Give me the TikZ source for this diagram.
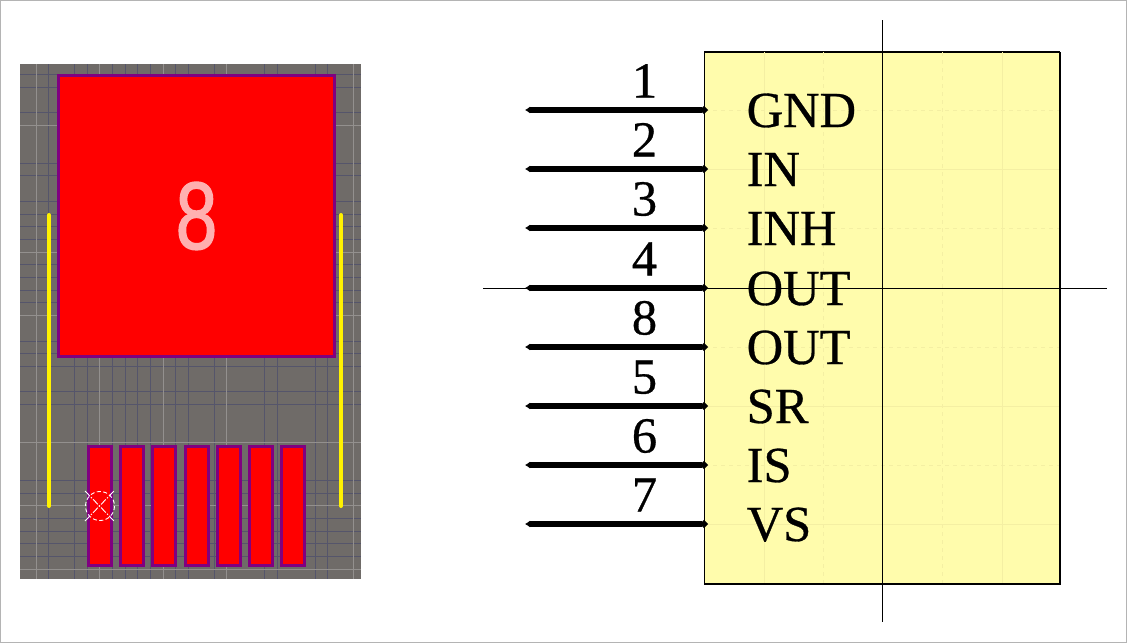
\documentclass[tikz,border=0pt]{standalone}
\usepackage{fontspec}
\setmainfont[FakeBold=0.6]{Liberation Serif}
\newfontfamily\padfont[FakeBold=1.4]{Liberation Sans}
\usetikzlibrary{arrows.meta}
\definecolor{boardgray}{HTML}{6F6B68}
\definecolor{griddark}{HTML}{55556B}
\definecolor{gridlight}{HTML}{93908E}
\definecolor{padpurple}{HTML}{800080}
\definecolor{padtext}{HTML}{FFB0B0}
\definecolor{bodyfill}{HTML}{FFFCAC}
\definecolor{bodygrid}{HTML}{F4EFA3}
\definecolor{framegray}{HTML}{B4B4B4}
\tikzset{
  x=1pt,y=-1pt,
  griddk/.style={griddark,line width=1.1pt},
  gridlt/.style={gridlight,line width=1.1pt},
  padshape/.style={fill=red,draw=padpurple,line width=3pt},
  silk/.style={yellow,line width=4pt,line cap=round},
  marker/.style={white,line width=0.9pt},
  pinline/.style={line width=5.5pt,{Circle[length=7pt,width=7pt]}-{Latex[length=5pt,width=7pt]}},
  pinnum/.style={font=\fontsize{50.5}{60}\selectfont,anchor=base,inner sep=0pt},
  pinname/.style={font=\fontsize{50.5}{60}\selectfont,anchor=base west,inner sep=0pt},
  bodybox/.style={draw=black,fill=bodyfill,line width=1pt,anchor=north west,inner sep=0pt,minimum width=355.5pt,minimum height=532pt},
  cross/.style={black,line width=1.3pt},
  bodysolid/.style={bodygrid,line width=1pt},
  bodydash/.style={bodygrid,line width=1pt,dash pattern=on 4pt off 4pt},
}
\begin{document}
\begin{tikzpicture}
\path[use as bounding box] (0,0) rectangle (1127,643);
\fill[white] (0,0) rectangle (1127,643);
\draw[framegray,line width=1pt] (0.5,0.5) rectangle (1126.5,642.5);
% board
\fill[boardgray] (20,64) rectangle (361,579);
\foreach \gy in {74,87,112,163,175,201,214,226,239,264,277,290,302,341,353,366,391,404,480,493,518,531,543,556}
  \draw[griddk] (20,\gy.5) -- (361,\gy.5);
\foreach \gx in {48,74,87,112,125,137,150,175,188,214,264,277,315,327}
  \draw[griddk] (\gx.5,64) -- (\gx.5,579);
\foreach \gy in {125,252,315,442,505,569}
  \draw[gridlt] (20,\gy.5) -- (361,\gy.5);
\foreach \gx in {36,99,163,226,353}
  \draw[gridlt] (\gx.5,64) -- (\gx.5,579);
% pads
\draw[padshape] (58.5,75.5) rectangle (334.5,356.5);
\foreach \pl/\pr in {87/113,119/145,151/177,184/209.5,216/242,248/274,280/306}
  \draw[padshape] (\pl+1.5,446.5) rectangle (\pr-1.5,565.5);
\node[font=\fontsize{96}{110}\padfont,text=padtext,inner sep=0pt,anchor=base] (padlabel) at (196.5,249) {\scalebox{0.78}[1]{8}};
% silk
\draw[silk] (49,215) -- (49,506);
\draw[silk] (341,215) -- (341,506);
% pin-1 marker
\draw[marker,dash pattern=on 4pt off 2.5pt] (100,506) circle (14.5);
\draw[marker,dash pattern=on 7pt off 1.5pt on 1.5pt off 1.5pt] (85,491) -- (114,521);
\draw[marker,dash pattern=on 7pt off 1.5pt on 1.5pt off 1.5pt] (85,521) -- (114,491);
% schematic body
\node[bodybox] (body) at (704,51.5) {};
\foreach \gx in {764,1002} \draw[bodysolid] (\gx.5,52) -- (\gx.5,583);
\foreach \gx in {823,942} \draw[bodydash] (\gx.5,52) -- (\gx.5,583);
\foreach \gy in {169,288,406,524} \draw[bodysolid] (705,\gy.5) -- (1059,\gy.5);
\foreach \gy in {110,228,347,465} \draw[bodydash] (705,\gy.5) -- (1059,\gy.5);
\draw[black,line width=1pt] (704,51.5) rectangle (1059.5,583.5);
% pins
\foreach \py/\pnum/\pname [count=\pi] in {110/1/GND,169/2/IN,228/3/INH,288/4/OUT,347/8/OUT,406/5/SR,465/6/IS,524/7/VS}{
  \coordinate (pinin\pi) at (707.5,\py);
  \coordinate (pinout\pi) at (525,\py);
  \draw[pinline] (pinin\pi) -- (pinout\pi);
  \node[pinnum] (num\pi) at (644.5,\py-12.5) {\pnum};
  \node[pinname] (name\pi) at (746.5,\py+17) {\pname};
}
% crosshair
\coordinate (chl) at (483,288.5);
\coordinate (chr) at (1107,288.5);
\coordinate (cht) at (882.5,20);
\coordinate (chb) at (882.5,622);
\draw[cross] (chl) -- (chr);
\draw[cross] (cht) -- (chb);
\end{tikzpicture}
\end{document}
